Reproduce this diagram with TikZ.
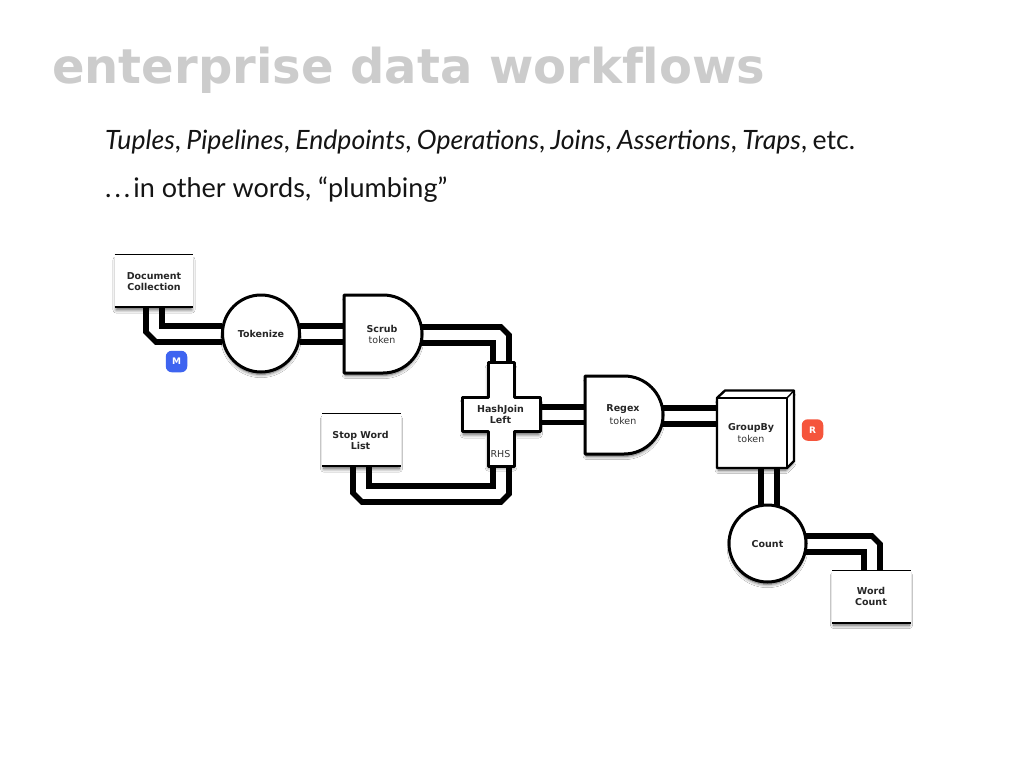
\documentclass[tikz,border=0pt]{standalone}
\usepackage{fontspec}
\setmainfont{DejaVu Sans}
\newfontfamily\bodyfont{Lato}
\usetikzlibrary{shadows.blur,calc}
\definecolor{titlegray}{gray}{0.8}
\definecolor{bodyink}{gray}{0.08}
\definecolor{mblue}{RGB}{62,100,240}
\definecolor{rred}{RGB}{245,85,60}
\tikzset{
  x=1pt,y=-1pt,
  pipe/.style={line width=5.6pt,line cap=butt,line join=miter,black},
  softshadow/.style={blur shadow={shadow xshift=0pt,shadow yshift=-4pt,shadow scale=0.96,shadow blur steps=8,shadow blur radius=3.5pt,shadow opacity=65}},
  lab/.style={font=\fontsize{9.5}{11}\selectfont\bfseries,align=center,inner sep=0pt,text=black!85},
  sublab/.style={font=\fontsize{9.5}{11}\selectfont,text=black!80,inner sep=0pt},
  databox/.style={draw=none,fill=white,minimum width=78.5pt,minimum height=52pt,inner sep=0pt,softshadow},
  opshape/.style={draw=black,line width=3pt,fill=white,softshadow,line join=round},
  badge/.style={rounded corners=6pt,minimum width=21.5pt,minimum height=21.5pt,inner sep=0pt,text=white,font=\fontsize{9}{10}\selectfont\bfseries},
}
\newcommand{\databoxat}[4]{%
  \node[databox] (#1) at (#2) {};
  \draw[line width=1.1pt] (#1.north west) -- (#1.north east);
  \draw[line width=1.6pt] (#1.south west) -- (#1.south east);
  \node[lab] (#1t) at (#3) {#4};
}
\begin{document}
\begin{tikzpicture}
\useasboundingbox (0,0) rectangle (1024,768);
\fill[white] (0,0) rectangle (1024,768);
\node[anchor=base west,inner sep=0pt,text=titlegray,font=\fontsize{48}{50}\selectfont\bfseries] (title) at (52,83) {enterprise data workf\kern0pt lows};
\node[anchor=base west,inner sep=0pt,text=bodyink,font=\fontsize{26.6}{30}\bodyfont] (l1) at (105,149) {\spaceskip=5.5pt\relax\textit{Tuples}, \textit{Pipelines}, \textit{Endpoints}, \textit{Operations}, \textit{Joins}, \textit{Assertions}, \textit{Traps}, etc.};
\node[anchor=base west,inner sep=0pt,text=bodyink,font=\fontsize{27}{30}\bodyfont] (l2) at (105,197) {.\kern3pt.\kern3pt.\kern3pt in other words,\kern7pt“plumbing”};

% named anchors for the pipes
\coordinate (dA) at (146,306); \coordinate (dB) at (162,306);
\coordinate (tA) at (222,326); \coordinate (tB) at (222,342);
\coordinate (tC) at (300,326); \coordinate (tD) at (300,342);
\coordinate (sA) at (344,326); \coordinate (sB) at (344,342);
\coordinate (sC) at (420,327); \coordinate (sD) at (420,343);
\coordinate (hA) at (509,362); \coordinate (hB) at (493,362);
\coordinate (hC) at (493,466); \coordinate (hD) at (509,466);
\coordinate (wA) at (353,466); \coordinate (wB) at (369,466);
\coordinate (hE) at (541,407); \coordinate (hF) at (541,422.5);
\coordinate (rA) at (585,407); \coordinate (rB) at (585,422.5);
\coordinate (rC) at (660,408); \coordinate (rD) at (660,424);
\coordinate (gA) at (717,408); \coordinate (gB) at (717,424);
\coordinate (gC) at (761,468); \coordinate (gD) at (777,468);
\coordinate (cA) at (761,506); \coordinate (cB) at (777,506);
\coordinate (cC) at (806,536); \coordinate (cD) at (806,552);
\coordinate (eA) at (880,570); \coordinate (eB) at (864,570);

% pipes
\draw[pipe] (dA) -- (146,332) -- (156,342) -- (tB);
\draw[pipe] (dB) -- (162,326) -- (tA);
\draw[pipe] (tC) -- (sA);
\draw[pipe] (tD) -- (sB);
\draw[pipe] (sC) -- (501,327) -- (509,335) -- (hA);
\draw[pipe] (sD) -- (hB |- sD) -- (hB);
\draw[pipe] (wA) -- (353,493) -- (362,502) -- (501,502) -- (509,494) -- (hD);
\draw[pipe] (wB) -- (369,486) -- (493,486) -- (hC);
\draw[pipe] (hE) -- (rA);
\draw[pipe] (hF) -- (rB);
\draw[pipe] (rC) -- (gA);
\draw[pipe] (rD) -- (gB);
\draw[pipe] (gC) -- (cA);
\draw[pipe] (gD) -- (cB);
\draw[pipe] (cC) -- (872,536) -- (880,544) -- (eA);
\draw[pipe] (cD) -- (864,552) -- (eB);

% data boxes
\databoxat{doc}{154,281}{154,282}{Document\\Collection}
\databoxat{stop}{361.5,440}{360.5,440.5}{Stop Word\\List}
\databoxat{word}{871.5,596.5}{871,596}{Word\\Count}

% circles
\node[circle,opshape,minimum size=77pt,inner sep=0pt] (tok) at (261,333.5) {};
\node[lab] (tokt) at (261,333.5) {Tokenize};
\node[circle,opshape,minimum size=77pt,inner sep=0pt] (cnt) at (767.5,543.5) {};
\node[lab] (cntt) at (767.5,544) {Count};

% D shapes
\draw[opshape] (344,295) -- (383,295) arc[start angle=-90,end angle=90,radius=39] -- (344,373) -- cycle;
\node[lab] (scr) at (382,328.5) {Scrub};
\node[sublab] (scrs) at (382,340) {token};
\draw[opshape] (585,376) -- (624,376) arc[start angle=-90,end angle=90,radius=39] -- (585,454) -- cycle;
\node[lab] (reg) at (623,409.5) {Regex};
\node[sublab] (regs) at (623,421) {token};

% cross
\draw[opshape] (488,362) -- (514,362) -- (514,397.5) -- (540.5,397.5) -- (540.5,431.5) -- (514,431.5) -- (514,466) -- (488,466) -- (488,431.5) -- (462,431.5) -- (462,397.5) -- (488,397.5) -- cycle;
\node[lab] (hj) at (500.5,414) {HashJoin\\Left};
\node[sublab] (rhs) at (500.5,454) {RHS};

% cube
\draw[opshape,line width=2.4pt] (717,398) -- (725,390.5) -- (794,390.5) -- (794,461) -- (787,468) -- (717,468) -- cycle;
\draw[black,line width=1.4pt] (717,398) -- (787,398) -- (787,468);
\draw[black,line width=1.4pt] (787,398) -- (794,390.5);
\node[lab] (gb) at (751,427.5) {GroupBy};
\node[sublab] (gbs) at (751,439) {token};

% badges
\node[badge,fill=mblue] (m) at (176.5,361.5) {M};
\node[badge,fill=rred] (r) at (812.5,430) {R};
\end{tikzpicture}
\end{document}
